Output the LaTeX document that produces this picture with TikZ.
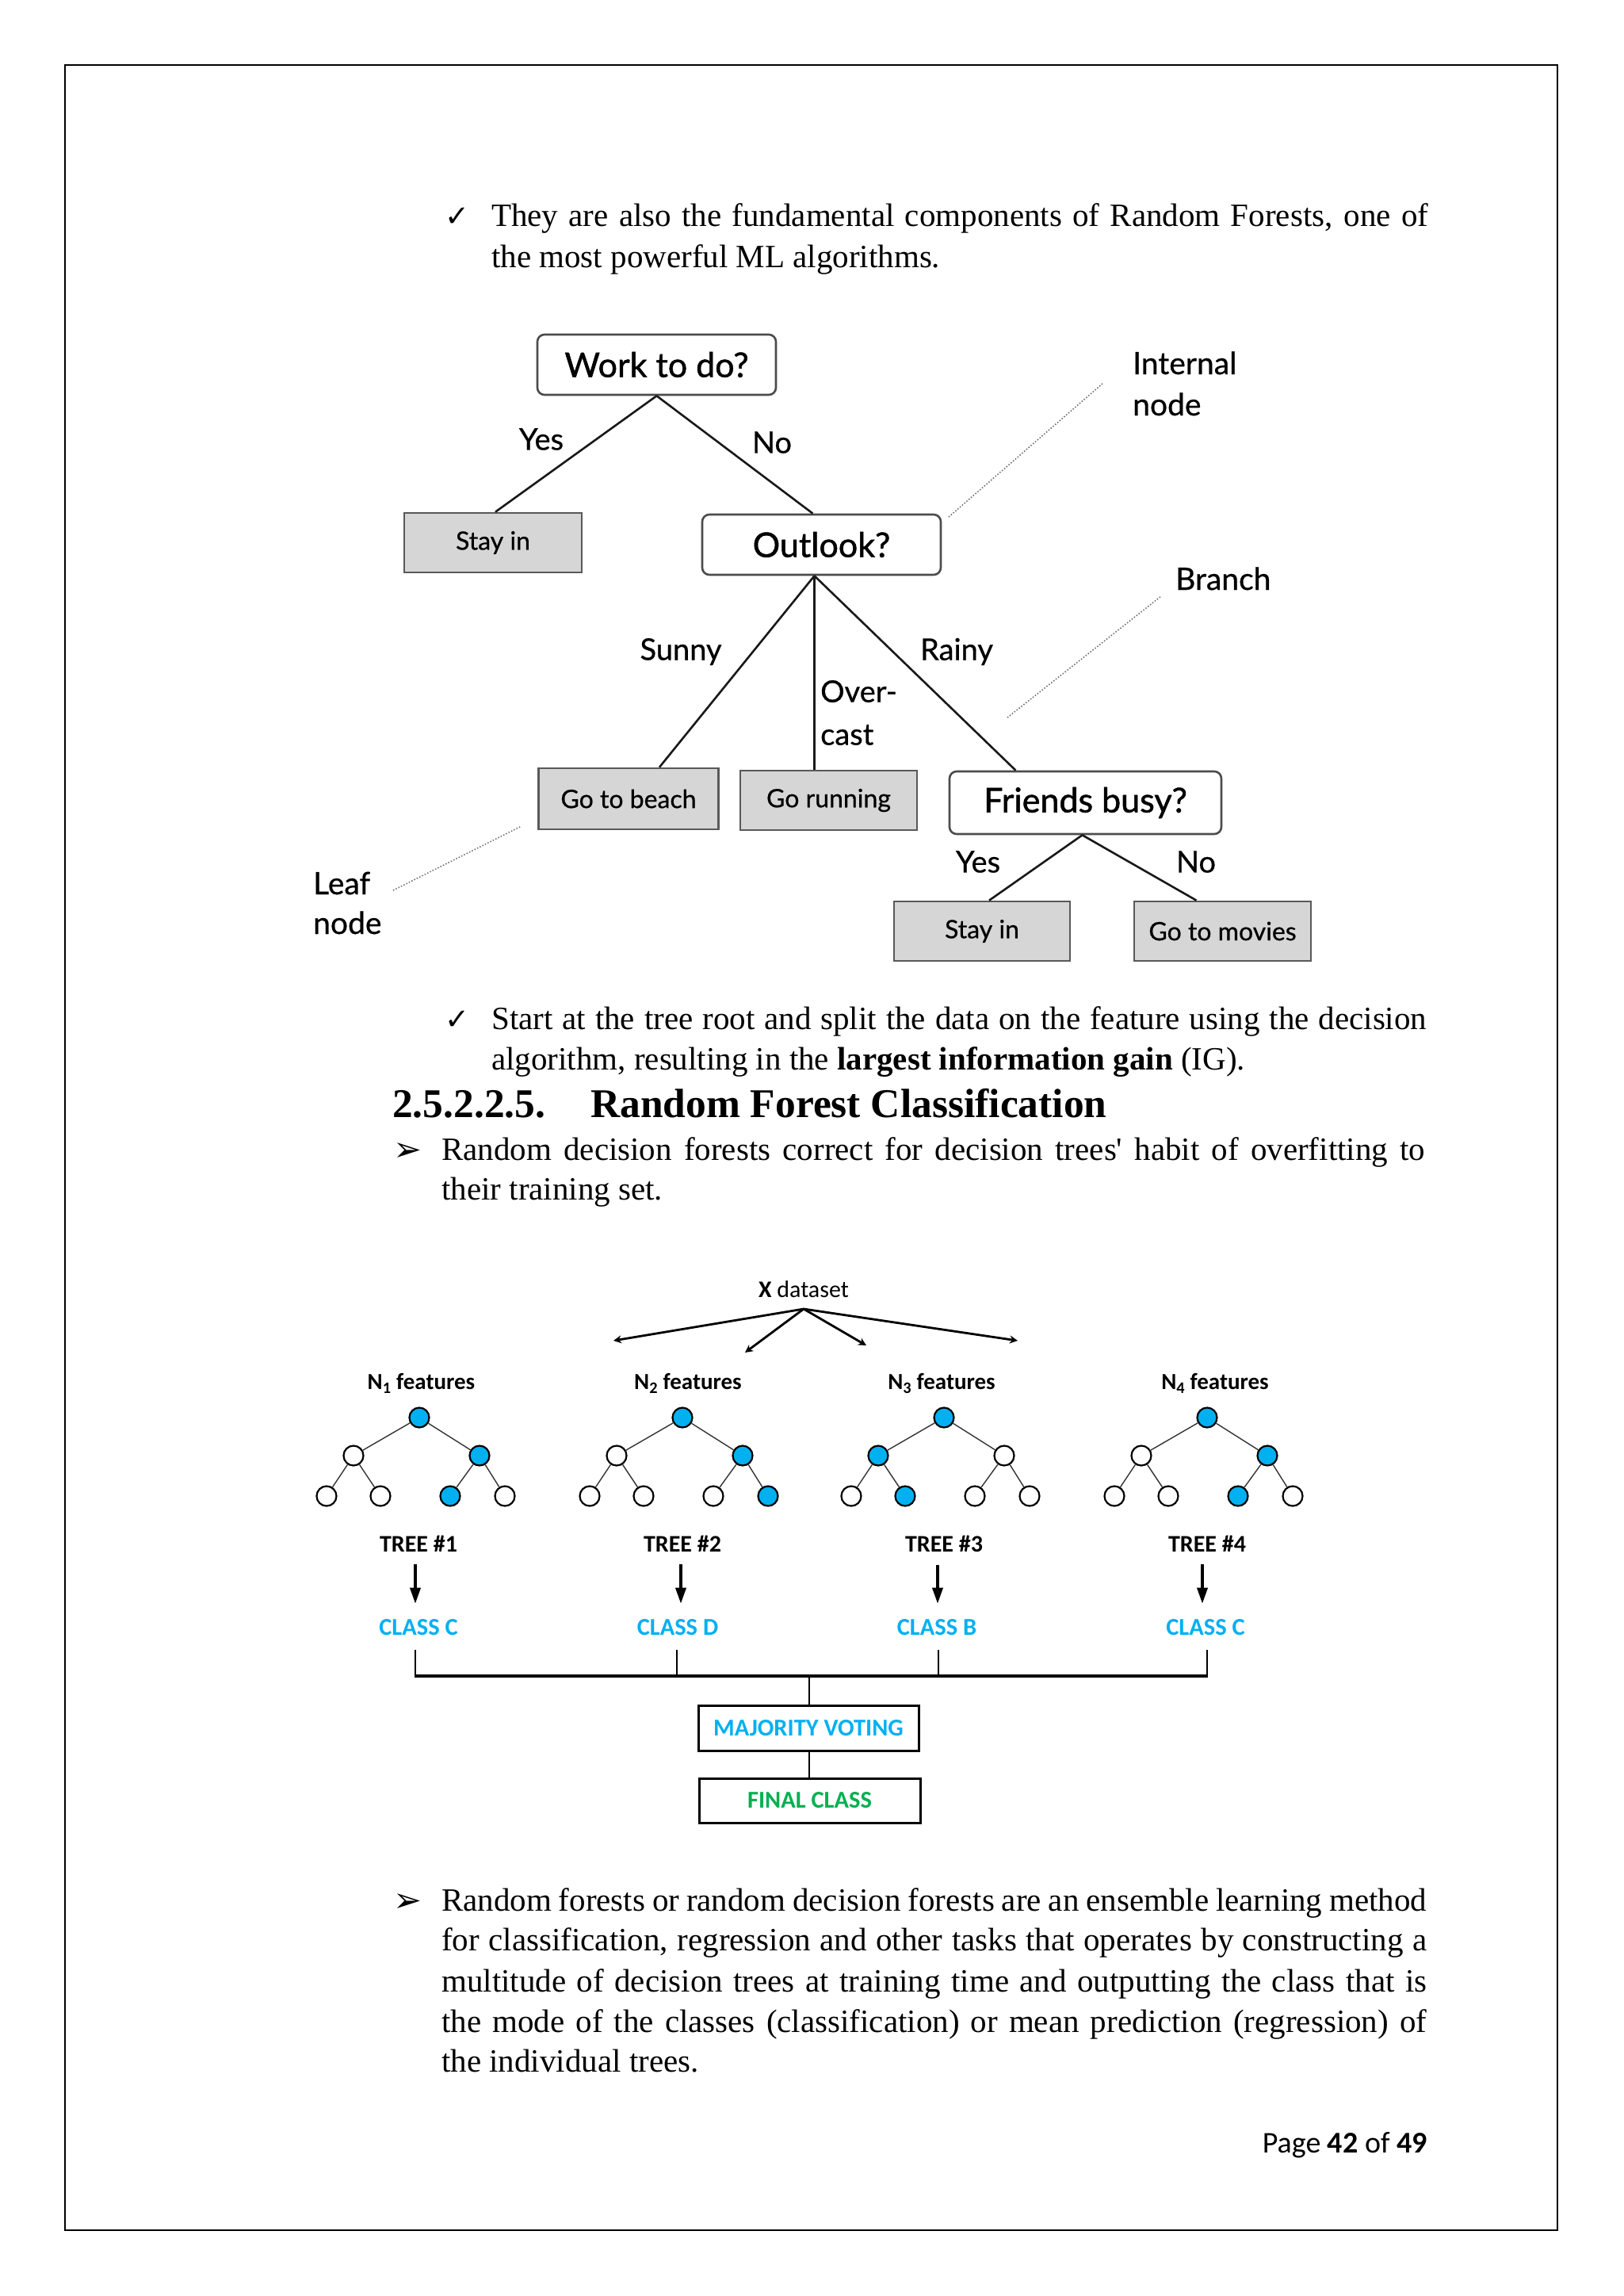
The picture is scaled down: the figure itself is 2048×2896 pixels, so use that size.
\documentclass[tikz,border=0pt]{standalone}
\usepackage{fontspec}
\setmainfont{Liberation Serif}[Ligatures=TeXOff]
\newfontfamily\gillf{Lato}[FakeBold=0.6]
\newfontfamily\gillq{Lato}[FakeBold=1.2]
\newfontfamily\calf{Carlito}
\newfontfamily\djvf{DejaVu Sans}
\usetikzlibrary{arrows.meta,calc}
\definecolor{rfblue}{HTML}{00B0F0}
\definecolor{rfgreen}{HTML}{00B050}
\definecolor{leafgray}{HTML}{D6D6D6}
\colorlet{cB}{rfblue}
\colorlet{cW}{white}
\newcommand\fsz[1]{\fontsize{#1}{#1}\selectfont}
\begin{document}
\begin{tikzpicture}[x=1pt,y=-1pt,
  body/.style={anchor=base west, inner sep=0, font=\fsz{41}},
  bull/.style={anchor=base west, inner sep=0, font=\djvf\fsz{37}},
  qbox/.style={draw=black!70, line width=2.6, rounded corners=9, fill=white, font=\gillq\fsz{43}, inner sep=0},
  lbox/.style={draw=black!65, line width=2.6, fill=leafgray, font=\gillf\fsz{32}, inner sep=0},
  elab/.style={font=\gillf\fsz{38}, inner sep=0},
  note/.style={font=\gillf\fsz{39}, inner sep=0, anchor=base west},
  branchline/.style={line width=2.6, draw=black!90},
  lead/.style={draw=black!60, line width=1.5, dash pattern=on 1.5pt off 2.2pt},
  nlab/.style={font=\calf\bfseries\fsz{29}, inner sep=0},
  tnode/.style={circle, draw=black, line width=2.2, minimum size=25, inner sep=0},
  tedge/.style={line width=1.4, draw=black!80},
  split/.style={line width=2.8, -{Stealth[length=10,width=10]}},
  down/.style={line width=3.5, -{Triangle[length=20,width=13]}},
  clab/.style={font=\calf\bfseries\fsz{30.5}, text=rfblue, inner sep=0},
  vbox/.style={draw=black, line width=3, fill=white, inner sep=0, font=\calf\bfseries\fsz{30.5}},
  vl/.style={line width=2.6},
]
\useasboundingbox (0,0) rectangle (2048,2896);
\fill[white] (0,0) rectangle (2048,2896);
\draw[line width=2.6] (82,82) rectangle (1965,2813);

% ---------- paragraph 1
\node[bull] (ck1) at (561,285) {✓};
\node[body] (p1a) at (620,285) {\makebox[1182pt][s]{They are also the fundamental components of Random Forests, one of}};
\node[body] (p1b) at (620,337) {the most powerful ML algorithms.};

% ---------- decision tree
\node[qbox, minimum width=301, minimum height=76] (work) at (828.5,460) {Work to do?};
\node[lbox, minimum width=224, minimum height=75] (stay1) at (622,684.5) {Stay in};
\node[qbox, minimum width=301, minimum height=76] (outlook) at (1036.5,687) {Outlook?};
\node[lbox, minimum width=227, minimum height=77] (beach) at (793,1007.5) {Go to beach};
\node[lbox, minimum width=223, minimum height=75] (running) at (1045.5,1009.5) {Go running};
\node[qbox, minimum width=343, minimum height=79] (friends) at (1369.5,1012.5) {Friends busy?};
\node[lbox, minimum width=222, minimum height=75] (stay2) at (1239,1174.5) {Stay in};
\node[lbox, minimum width=223, minimum height=75] (movies) at (1542.5,1174.5) {Go to movies};

\draw[branchline] (work.south) -- ([xshift=3]stay1.north);
\draw[branchline] (work.south) -- ([xshift=-11]outlook.north);
\draw[branchline] ([xshift=-9]outlook.south) -- ([xshift=39]beach.north);
\draw[branchline] ([xshift=-9]outlook.south) -- ([xshift=-18]running.north);
\draw[branchline] ([xshift=-9]outlook.south) -- ([xshift=-88]friends.north);
\draw[branchline] ([xshift=-4]friends.south) -- ([xshift=9]stay2.north);
\draw[branchline] ([xshift=-4]friends.south) -- ([xshift=-33]movies.north);

\node[elab] (lyes1) at (683,554) {Yes};
\node[elab] (lno1) at (974,558) {No};
\node[elab] (lsunny) at (859,822) {Sunny};
\node[elab] (lrainy) at (1207,822) {Rainy};
\node[elab, anchor=west] (lover) at (1035,872) {Over-};
\node[elab, anchor=west] (lcast) at (1035,927) {cast};
\node[elab] (lyes2) at (1234,1087) {Yes};
\node[elab] (lno2) at (1509,1087) {No};

\node[note] (int1) at (1429,472) {Internal};
\node[note] (int2) at (1429,524) {node};
\node[note] (br) at (1483,744) {Branch};
\node[note] (lf1) at (395,1128) {Leaf};
\node[note] (lf2) at (395,1178) {node};
\coordinate (di1) at (1197,652); \coordinate (di2) at (1392,483);
\coordinate (db1) at (1271,905); \coordinate (db2) at (1465,752);
\coordinate (dl1) at (496,1123); \coordinate (dl2) at (658,1042);
\draw[lead] (di1) -- (di2);
\draw[lead] (db1) -- (db2);
\draw[lead] (dl1) -- (dl2);

% ---------- paragraph 2 + heading + paragraph 3
\node[bull] (ck2) at (561,1298) {✓};
\node[body] (p2a) at (620,1298) {\makebox[1180pt][s]{Start at the tree root and split the data on the feature using the decision}};
\node[body] (p2b) at (620,1349) {algorithm, resulting in the \textbf{largest information gain} (IG).};
\node[body, font=\bfseries\fsz{51.5}] (hnum) at (495,1409) {2.5.2.2.5.};
\node[body, font=\bfseries\fsz{51.5}] (htit) at (745,1409) {Random Forest Classification};
\node[bull, font=\djvf\fsz{43}] (ar1) at (496,1464) {➢};
\node[body] (p3a) at (557,1463) {\makebox[1241pt][s]{Random decision forests correct for decision trees' habit of overfitting to}};
\node[body] (p3b) at (557,1513) {their training set.};

% ---------- random forest diagram
\node[font=\calf\fsz{30}, inner sep=0] (xds) at (1014,1626) {\textbf{X} dataset};
\coordinate (apex) at (1014,1651);
\coordinate (s1) at (774,1691);
\coordinate (s2) at (940,1706);
\coordinate (s3) at (1093,1697);
\coordinate (s4) at (1284,1691);
\foreach \k in {1,...,4} \draw[split] (apex) -- (s\k);

\node[nlab] (n1) at (531.5,1745) {N\textsubscript{1} features};
\node[nlab] (n2) at (868,1745) {N\textsubscript{2} features};
\node[nlab] (n3) at (1188,1745) {N\textsubscript{3} features};
\node[nlab] (n4) at (1533,1745) {N\textsubscript{4} features};

\foreach \i/\cx/\ca/\cb/\cc/\cd/\ce/\cf/\cg in {
  1/529/cB/cW/cB/cW/cW/cB/cW,
  2/861/cB/cW/cB/cW/cW/cW/cB,
  3/1191/cB/cB/cW/cW/cB/cW/cW,
  4/1523/cB/cW/cB/cW/cW/cB/cW}{
  \node[tnode, fill=\ca] (r\i) at (\cx,1788) {};
  \node[tnode, fill=\cb] (a\i) at (\cx-83,1836) {};
  \node[tnode, fill=\cc] (b\i) at (\cx+76,1836) {};
  \node[tnode, fill=\cd] (c\i) at (\cx-117,1887) {};
  \node[tnode, fill=\ce] (d\i) at (\cx-49,1887) {};
  \node[tnode, fill=\cf] (e\i) at (\cx+39,1887) {};
  \node[tnode, fill=\cg] (f\i) at (\cx+108,1887) {};
  \draw[tedge] (r\i) -- (a\i);
  \draw[tedge] (r\i) -- (b\i);
  \draw[tedge] (a\i) -- (c\i);
  \draw[tedge] (a\i) -- (d\i);
  \draw[tedge] (b\i) -- (e\i);
  \draw[tedge] (b\i) -- (f\i);
}

\node[nlab, font=\calf\bfseries\fsz{30}] (t1) at (528,1947) {TREE \#1};
\node[nlab, font=\calf\bfseries\fsz{30}] (t2) at (861,1947) {TREE \#2};
\node[nlab, font=\calf\bfseries\fsz{30}] (t3) at (1191,1947) {TREE \#3};
\node[nlab, font=\calf\bfseries\fsz{30}] (t4) at (1523,1947) {TREE \#4};

\node[clab] (k1) at (528,2053) {CLASS C};
\node[clab] (k2) at (855,2053) {CLASS D};
\node[clab] (k3) at (1182,2053) {CLASS B};
\node[clab] (k4) at (1521,2053) {CLASS C};

\foreach \k/\dx in {1/-4,2/-2,3/-8,4/-6}
  \draw[down, shorten <=16, shorten >=20] ([xshift=\dx]t\k.south) -- ([xshift=\dx]t\k.south |- k\k.north);

\coordinate (bus) at (1021,2114);
\node[vbox, text=rfblue, minimum width=278, minimum height=57] (mv) at (1020,2180) {MAJORITY VOTING};
\node[vbox, text=rfgreen, minimum width=279, minimum height=56] (fc) at (1021.5,2271) {FINAL CLASS};

\foreach \k/\dx in {1/-4,2/-1,3/2,4/2}
  \draw[vl, shorten <=18] ([xshift=\dx]k\k.south) -- ([xshift=\dx]k\k.south |- bus);
\draw[line width=4.5] ([xshift=-5.3]k1.south |- bus) -- ([xshift=3.3]k4.south |- bus);
\draw[vl] (bus) -- (mv.north -| bus);
\draw[vl] (mv.south -| bus) -- (fc.north -| bus);

% ---------- paragraph 4
\node[bull, font=\djvf\fsz{43}] (ar2) at (496,2411) {➢};
\node[body] (p4a) at (557,2410) {\makebox[1243pt][s]{Random forests or random decision forests are an ensemble learning method}};
\node[body] (p4b) at (557,2460) {\makebox[1243pt][s]{for classification, regression and other tasks that operates by constructing a}};
\node[body] (p4c) at (557,2512) {\makebox[1243pt][s]{multitude of decision trees at training time and outputting the class that is}};
\node[body] (p4d) at (557,2563) {\makebox[1243pt][s]{the mode of the classes (classification) or mean prediction (regression) of}};
\node[body] (p4e) at (557,2613) {the individual trees.};

\node[anchor=base east, inner sep=0, font=\calf\fsz{38}] (pg) at (1801,2715) {Page \textbf{42} of \textbf{49}};
\end{tikzpicture}
\end{document}
